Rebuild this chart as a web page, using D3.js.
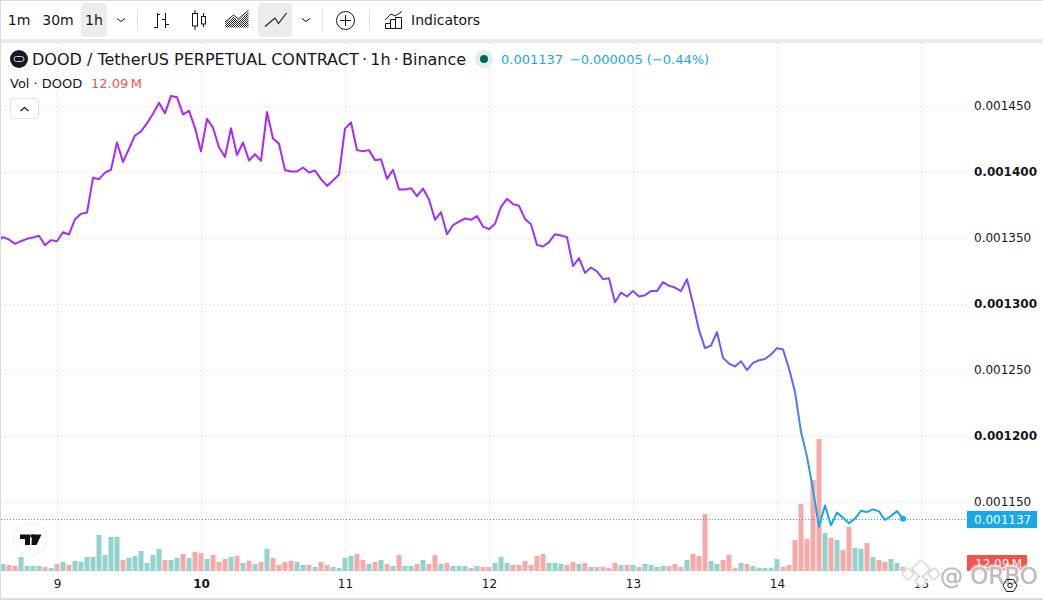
<!DOCTYPE html>
<html>
<head>
<meta charset="utf-8">
<script src="https://cdn.jsdelivr.net/npm/d3@7"></script>
<style>
html,body{margin:0;padding:0;background:#fff;overflow:hidden}
svg{display:block;font-family:"DejaVu Sans",sans-serif}
</style>
</head>
<body>
<svg id="c" width="1043" height="600"></svg>
<script>
// hour offsets are counted from day 9, 00:00
const firstPriceHour = -10;
const firstVolumeHour = -9;
// price in millionths of USDT, one value per hour
const prices = [1347,
1350.3,1348.5,1345.2,1347.2,1349,1350,1351.3,1344.2,1348,1347.2,
1354,1352.3,1363.9,1367.9,1368.9,1395.2,1394.2,1399.2,1401.3,1422,
1407.3,1417.2,1427.3,1430.3,1436.6,1443.7,1452,1444.2,1457.3,1456.3,
1443.2,1446,1433.1,1415.2,1439.9,1433.1,1418.4,1411.1,1432.8,1412.4,
1422,1408.3,1413.1,1408.1,1445,1425,1421,1401,1400,1400,
1403,1399.2,1400.8,1394.2,1389.1,1393.2,1397.7,1432.5,
1437.1,1416.2,1415.4,1416.2,1408.6,1409.3,1394.4,1401.3,1386.4,1386.4,
1387.4,1381.3,1387.1,1378.8,1363.4,1369.2,1352.5,1359.3,1362.1,1364.4,
1363.4,1366.2,1358.3,1356.3,1360.4,1373.2,1379.3,1375.3,1374,1364.1,
1360.1,1344.4,1343.2,1346.5,1352.5,1351.5,1350.3,1328.3,1334.4,1323.2,
1327.3,1324.3,1318.4,1319.2,1301,1308.3,1305.3,1309.4,1305.3,1306.3,
1309.4,1309.4,1316.2,1313.4,1312.1,1309.4,1318.4,
1300,1279.8,1266.2,1268.2,1278.3,1258.8,1254.5,1252.3,1256.3,1249.5,
1255,1257,1258,1261.4,1266.2,1265.2,1250.8,1233,1202.8,1184,
1159,1131,1147,1132,1141.6,1137.6,1133.5,1137,1143,1142,
1144,1142.5,1136,1139,1142.7,1137];
// hourly volume in millions; negative = down candle (red), positive = up candle (green)
const volumes = [
21,-18,-15,42,15,15,15,-12,9,-21,
27,-18,30,27,42,42,108,48,102,102,
-33,39,45,60,24,48,66,-33,33,39,
-51,39,-57,-54,36,-48,-27,-36,42,-45,
24,-30,21,-27,66,-39,-18,-27,-30,27,
18,-18,12,-27,-18,12,9,39,
45,-51,-33,21,-27,33,-21,15,-48,15,
15,-21,33,-21,-48,21,-24,15,15,15,
-9,15,-12,-12,24,42,24,-18,-18,-30,
-18,-45,-51,24,24,21,-18,-27,21,-24,
12,-12,-12,-9,-24,18,-18,18,-12,21,
18,12,15,-15,-21,-12,33,-51,-45,
-171,30,21,-33,-48,-10,24,-21,15,10,
9,10,36,-12,-18,-93,-201,-96,-273,-396,
114,-99,93,-63,-132,69,66,-84,42,-33,
-27,36,24,-12.09];
const priceTicks = [1150,1200,1250,1300,1350,1400,1450];
const boldPriceTicks = [1200,1300,1400];
const gridPrices = [1100,1150,1200,1250,1300,1350,1400,1450];
const dayTicks = [0,24,48,72,96,120,144];
const dayLabels = ["9","10","11","12","13","14","15"];
const lastPrice = 1137;
const timeframes = ["1m","30m","1h"];
const title = "DOOD / TetherUS PERPETUAL CONTRACT\u2009·\u20091h\u2009·\u2009Binance";
const quote = "0.001137 \u2009−0.000005 (−0.44%)";
const volumeLabel = "12.09\u2009M";

const svg = d3.select("#c");
const INK = "#131722", BLUE = "#16a8ea", RED = "#ef5350";
const fmt = v => (v/1e6).toFixed(6);

const x = d3.scaleLinear().domain([0,144]).range([57,921]);
const y = d3.scaleLinear().domain([1100,1450]).range([567.5,105.5]);
const yVol = d3.scaleLinear().domain([0,396]).range([571,439]);

const defs = svg.append("defs");
const grad = defs.append("linearGradient").attr("id","lineGrad")
  .attr("gradientUnits","userSpaceOnUse").attr("x1",0).attr("x2",0).attr("y1",95).attr("y2",525);
[[0,"#b91cff"],[0.35,"#9a35fb"],[0.6,"#6a5cfa"],[0.8,"#3f8af5"],[1,"#14a8ea"]]
  .forEach(s=>grad.append("stop").attr("offset",s[0]).attr("stop-color",s[1]));
const hatch = defs.append("pattern").attr("id","hatch").attr("patternUnits","userSpaceOnUse")
  .attr("width",2).attr("height",2);
hatch.append("rect").attr("width",1).attr("height",1).attr("fill","#222");
hatch.append("rect").attr("x",1).attr("y",1).attr("width",1).attr("height",1).attr("fill","#222");
const halo = defs.append("filter").attr("id","halo").attr("x","-10%").attr("y","-30%").attr("width","120%").attr("height","160%");
halo.append("feGaussianBlur").attr("stdDeviation",0.9);
const soft = defs.append("filter").attr("id","soft").attr("x","-10%").attr("y","-30%").attr("width","120%").attr("height","160%");
soft.append("feGaussianBlur").attr("stdDeviation",0.5);
const glow = defs.append("filter").attr("id","glow").attr("x","-20%").attr("y","-30%").attr("width","140%").attr("height","160%");
glow.append("feGaussianBlur").attr("stdDeviation",1.2);

// frame
svg.append("rect").attr("width",1043).attr("height",600).attr("fill","#fff");

// volume bars
svg.append("g").selectAll("rect").data(volumes).join("rect")
  .attr("x",(d,i)=>x(firstVolumeHour+i)-2.5)
  .attr("width",5)
  .attr("y",d=>yVol(Math.abs(d)))
  .attr("height",d=>yVol(0)-yVol(Math.abs(d)))
  .attr("fill",d=>d<0?"#f7a9a7":"#92d2cc");

// grid
const grid = svg.append("g").attr("stroke","#d4d6da").attr("stroke-width",1).attr("stroke-dasharray","1 3");
grid.selectAll("line.h").data(gridPrices).join("line").attr("class","h")
  .attr("x1",1).attr("x2",966).attr("y1",d=>Math.round(y(d))+.5).attr("y2",d=>Math.round(y(d))+.5);
grid.selectAll("line.v").data(dayTicks).join("line").attr("class","v")
  .attr("x1",d=>x(d)+.5).attr("x2",d=>x(d)+.5).attr("y1",43).attr("y2",575);

// last price dotted line
svg.append("line").attr("x1",1).attr("x2",966).attr("y1",519.5).attr("y2",519.5)
  .attr("stroke",BLUE).attr("stroke-width",1).attr("stroke-dasharray","1 2");

// line
const line = d3.line().x((d,i)=>x(firstPriceHour+i)).y(d=>y(d));
svg.append("path").datum(prices).attr("d",line).attr("fill","none")
  .attr("stroke","url(#lineGrad)").attr("stroke-width",2).attr("stroke-linejoin","round");
svg.append("circle").attr("cx",x(firstPriceHour+prices.length-1)).attr("cy",y(lastPrice)).attr("r",3).attr("fill",BLUE);

// price axis
const yAxis = d3.axisRight(y).tickValues(priceTicks).tickFormat(fmt).tickSize(0).tickPadding(0);
const gy = svg.append("g").attr("transform","translate(974,0)").call(yAxis);
gy.select(".domain").remove();
gy.selectAll("text").attr("font-size",12).attr("font-family","DejaVu Sans").attr("fill",INK)
  .attr("font-weight",d=>boldPriceTicks.includes(d)?"bold":"normal");

// time axis
const xAxis = d3.axisBottom(x).tickValues(dayTicks).tickFormat((d,i)=>dayLabels[i]).tickSize(0).tickPadding(0);
const gx = svg.append("g").attr("transform","translate(0,579)").call(xAxis);
gx.select(".domain").remove();
gx.selectAll("text").attr("font-size",12).attr("font-family","DejaVu Sans").attr("fill",INK)
  .attr("font-weight",(d,i)=>dayLabels[i]==="10"?"bold":"normal");

// axis badges
svg.append("rect").attr("x",967).attr("y",511).attr("width",70).attr("height",17).attr("fill",BLUE);
svg.append("text").attr("x",974).attr("y",524).attr("font-size",12).attr("fill","#fff").text(fmt(lastPrice));
svg.append("rect").attr("x",967).attr("y",555).attr("width",60).attr("height",16).attr("fill",RED);
svg.append("text").attr("x",975).attr("y",568).attr("font-size",12).attr("fill","#fff").text(volumeLabel);

// borders and toolbar
svg.append("rect").attr("x",0).attr("y",0).attr("width",1043).attr("height",39).attr("fill","#fff");
svg.append("rect").attr("x",0).attr("y",39).attr("width",1043).attr("height",4).attr("fill","#e9eaec");
svg.append("rect").attr("x",0).attr("y",0).attr("width",1043).attr("height",1).attr("fill","#dcdcdc");
svg.append("rect").attr("x",0).attr("y",0).attr("width",1).attr("height",600).attr("fill","#dcdcdc");
svg.append("rect").attr("x",0).attr("y",598).attr("width",1043).attr("height",2).attr("fill","#dcdcdc");

const tb = svg.append("g");
tb.append("rect").attr("x",81).attr("y",3).attr("width",26).attr("height",34).attr("rx",4).attr("fill","#ececec");
tb.append("rect").attr("x",258).attr("y",3).attr("width",34).attr("height",34).attr("rx",4).attr("fill","#ececec");
tb.selectAll("text.tf").data(timeframes).join("text").attr("class","tf")
  .attr("x",(d,i)=>[19,58,94][i]).attr("y",25).attr("text-anchor","middle").attr("font-size",14).attr("fill",INK).text(d=>d);
tb.append("text").attr("x",411).attr("y",25).attr("font-size",14).attr("fill",INK).text("Indicators");
[137.5,322.5,369.5].forEach(px=>tb.append("line").attr("x1",px).attr("x2",px).attr("y1",9).attr("y2",31).attr("stroke","#e0e3eb"));
const ic = tb.append("g").attr("fill","none").attr("stroke",INK).attr("stroke-width",1);
[117,302].forEach(a=>ic.append("path").attr("d",`M${a},18.5 l4,3 l4,-3`));
// bar icon
ic.append("path").attr("d","M157.5,13V28 M157.5,14.5H160 M157.5,27.5H154 M165.5,13V28 M165.5,19.5H162 M165.5,24.5H169");
// candle icon
ic.append("path").attr("d","M195,10V30 M203.5,13V27");
ic.append("rect").attr("x",192.5).attr("y",13.5).attr("width",5).attr("height",12.5).attr("fill","#fff");
ic.append("rect").attr("x",201.5).attr("y",16.5).attr("width",4).attr("height",7.5).attr("fill","#fff");
// area icon
tb.append("path").attr("d","M225,27.5 V23.5 L233.5,16.5 L238.5,20.5 L248.5,11 V27.5 Z").attr("fill","url(#hatch)");
ic.append("path").attr("d","M225,22 L233.5,15 L238.5,19 L248.5,10");
// line icon
ic.append("path").attr("d","M265,26.5 L275,18 L278.5,23.5 L286.5,13").attr("stroke-width",1.1);
// plus
ic.append("circle").attr("cx",345.5).attr("cy",20.5).attr("r",9);
ic.append("path").attr("d","M345.5,15V26 M340,20.5H351");
// indicators icon
ic.append("path").attr("d","M385.5,28.5V23.5H390.5V28.5 M390.5,28.5V19.5H395.5V28.5 M395.5,28.5V17.5H401.5V28.5 M385,28.5H402 M385,20 L391,14 L395,16 L402,11.5");

// legend
const legend = svg.append("g");
legend.append("circle").attr("cx",19).attr("cy",59).attr("r",9).attr("fill","#15181e");
legend.append("rect").attr("x",14).attr("y",56.5).attr("width",10).attr("height",5).attr("rx",2.5).attr("fill","none").attr("stroke","#c9ced6").attr("stroke-width",1);
legend.append("text").attr("x",32).attr("y",65).attr("font-size",16).attr("fill",INK).text(title);
legend.append("circle").attr("cx",484).attr("cy",59).attr("r",9).attr("fill","#dff1ee");
legend.append("circle").attr("cx",484).attr("cy",59).attr("r",4).attr("fill","#056656");
legend.append("text").attr("x",501).attr("y",64).attr("font-size",13).attr("fill",BLUE).style("white-space","pre").text(quote);
legend.append("text").attr("x",10).attr("y",88).attr("font-size",13).attr("fill",INK).text("Vol · DOOD");
legend.append("text").attr("x",91).attr("y",88).attr("font-size",13).attr("fill",RED).text(volumeLabel);
legend.append("rect").attr("x",10.5).attr("y",98.5).attr("width",28).attr("height",20).attr("rx",3).attr("fill","#fff").attr("stroke","#e0e3eb");
legend.append("path").attr("d","M20.5,111 L24.5,107.5 L28.5,111").attr("fill","none").attr("stroke",INK).attr("stroke-width",1.2);

// TV logo badge
const logo = svg.append("g");
logo.append("circle").attr("cx",30.5).attr("cy",539).attr("r",16.5).attr("fill","#fff").attr("stroke","#eeeeee").attr("stroke-width",1);
logo.append("path").attr("d","M20,534.5H30V545H25V539H20Z M32,534.5H41.5L36.5,545H31.5Z").attr("fill","#111");
logo.append("circle").attr("cx",32).attr("cy",536).attr("r",1.8).attr("fill","#111");

// watermark: white blurred halo, grey glow, then soft mark on top
const markPath = "M921,561 L929,569 L921,577 L913,569 Z M908,569 L913,574 L908,579 L903,574 Z M934,569 L939,574 L934,579 L929,574 Z M921,576 L926,581 L921,586 L916,581 Z";
const wmHalo = svg.append("g").attr("filter","url(#halo)");
wmHalo.append("path").attr("d",markPath).attr("fill","#fff").attr("stroke","#fff").attr("stroke-width",4).attr("stroke-linejoin","round");
wmHalo.append("text").attr("x",940).attr("y",584).attr("font-size",23).attr("fill","#fff").attr("stroke","#fff").attr("stroke-width",4).text("@ ORBO");
const wmGlow = svg.append("g").attr("filter","url(#glow)");
wmGlow.append("path").attr("d",markPath).attr("fill","none").attr("stroke","#bdbdbd").attr("stroke-width",2).attr("stroke-linejoin","round");
const wm = svg.append("g").attr("filter","url(#soft)");
wm.append("path").attr("d",markPath).attr("fill","#fff");
wm.append("text").attr("x",940).attr("y",584).attr("font-size",23).attr("fill","#bcbcbc").attr("stroke","#bcbcbc").attr("stroke-width",.4).text("@ ORBO");

// settings hexagon
svg.append("path").attr("d","M1003,585.5 L1006.5,579.5 H1013.5 L1017,585.5 L1013.5,591.5 H1006.5 Z").attr("fill","none").attr("stroke",INK);
svg.append("circle").attr("cx",1010).attr("cy",585.5).attr("r",2.2).attr("fill","none").attr("stroke",INK);
</script>
</body>
</html>
